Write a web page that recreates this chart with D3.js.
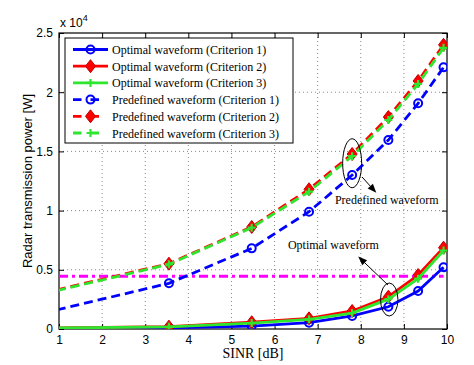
<!DOCTYPE html>
<html>
<head>
<meta charset="utf-8">
<script src="https://cdn.jsdelivr.net/npm/d3@7"></script>
<style>
  body { margin: 0; background: #fff; }
  .tick text { font-family: "Liberation Sans", Arial, sans-serif; font-size: 12px; }
</style>
</head>
<body>
<script>
// SINR sample points [dB] (first one lies left of the axis and gets clipped)
const sinrDb = [0, 3.55, 5.47, 6.8, 7.8, 8.64, 9.33, 9.92];

// transmission power, units of 1e4 W
const optCrit1 = [0.002, 0.010, 0.025, 0.053, 0.110, 0.188, 0.321, 0.521];
const optCrit2 = [0.005, 0.020, 0.057, 0.090, 0.152, 0.273, 0.456, 0.687];
const optCrit3 = [0.005, 0.018, 0.050, 0.082, 0.135, 0.252, 0.425, 0.663];
const preCrit1 = [0.079, 0.386, 0.681, 0.991, 1.300, 1.596, 1.906, 2.210];
const preCrit2 = [0.250, 0.552, 0.862, 1.180, 1.478, 1.790, 2.095, 2.400];
const preCrit3 = [0.243, 0.546, 0.856, 1.160, 1.460, 1.765, 2.070, 2.375];

// power limit (dash-dot)
const limitX = [1, 9.92];
const limitVal = 0.445;

const xTicks = [1, 2, 3, 4, 5, 6, 7, 8, 9, 10];
const yTicks = [0, 0.5, 1, 1.5, 2, 2.5];

const seriesNames = [
  "Optimal waveform (Criterion 1)",
  "Optimal waveform (Criterion 2)",
  "Optimal waveform (Criterion 3)",
  "Predefined waveform (Criterion 1)",
  "Predefined waveform (Criterion 2)",
  "Predefined waveform (Criterion 3)"
];

const blue = "#0000ff", red = "#ff0000", green = "#2ee62e", magenta = "#ff00ff";

const series = [
  { name: seriesNames[0], vals: optCrit1, color: blue,  marker: "o", dash: null },
  { name: seriesNames[1], vals: optCrit2, color: red,   marker: "d", dash: null },
  { name: seriesNames[2], vals: optCrit3, color: green, marker: "+", dash: null },
  { name: seriesNames[3], vals: preCrit1, color: blue,  marker: "o", dash: "9,5" },
  { name: seriesNames[4], vals: preCrit2, color: red,   marker: "d", dash: "9,5" },
  { name: seriesNames[5], vals: preCrit3, color: green, marker: "+", dash: "9,5" }
];

const W = 474, H = 365;
const margin = { left: 59, right: 27, top: 33, bottom: 36 };
const pw = W - margin.left - margin.right;
const ph = H - margin.top - margin.bottom;

const svg = d3.select("body").append("svg")
  .attr("width", W).attr("height", H);

const x = d3.scaleLinear().domain([1, 10]).range([0, pw]);
const y = d3.scaleLinear().domain([0, 2.5]).range([ph, 0]);

const g = svg.append("g").attr("transform", `translate(${margin.left},${margin.top})`);

svg.append("defs").append("clipPath").attr("id", "clip")
  .append("rect").attr("width", pw).attr("height", ph);

// grid
g.append("g").selectAll("line").data(xTicks.slice(1, -1)).join("line")
  .attr("x1", d => x(d)).attr("x2", d => x(d)).attr("y1", 0).attr("y2", ph)
  .attr("stroke", "#888").attr("stroke-dasharray", "1,3");
g.append("g").selectAll("line").data(yTicks.slice(1, -1)).join("line")
  .attr("y1", d => y(d)).attr("y2", d => y(d)).attr("x1", 0).attr("x2", pw)
  .attr("stroke", "#888").attr("stroke-dasharray", "1,3");

// axes, ticks inside on all four sides
const tk = 5;
const ax = d3.axisBottom(x).tickValues(xTicks).tickSize(-tk).tickPadding(6).tickSizeOuter(0);
const ay = d3.axisLeft(y).tickValues(yTicks).tickSize(-tk).tickPadding(6).tickSizeOuter(0)
  .tickFormat(d => d);
g.append("g").attr("transform", `translate(0,${ph})`).call(ax);
g.append("g").call(ay);
g.append("g").call(d3.axisTop(x).tickValues(xTicks).tickSize(-tk).tickFormat("").tickSizeOuter(0));
g.append("g").attr("transform", `translate(${pw},0)`)
  .call(d3.axisRight(y).tickValues(yTicks).tickSize(-tk).tickFormat("").tickSizeOuter(0));
g.selectAll(".domain").remove();
g.selectAll(".tick line").attr("stroke", "#000");
g.selectAll(".tick text").attr("fill", "#000");

g.append("rect").attr("width", pw).attr("height", ph)
  .attr("fill", "none").attr("stroke", "#000").attr("stroke-width", 1.2);

// markers
function drawMarker(sel, type, color) {
  if (type === "o") {
    sel.append("circle").attr("r", 4).attr("fill", "none")
      .attr("stroke", color).attr("stroke-width", 2);
  } else if (type === "d") {
    sel.append("path").attr("d", "M0,-6.5L5,0L0,6.5L-5,0Z")
      .attr("fill", color).attr("stroke", "#c00000").attr("stroke-width", 1);
  } else {
    sel.append("path").attr("d", "M-4,0H4M0,-4V4")
      .attr("stroke", color).attr("stroke-width", 2.2);
  }
}

const plot = g.append("g").attr("clip-path", "url(#clip)");
const line = d3.line().x((d, i) => x(sinrDb[i])).y(d => y(d));

// threshold line
plot.append("path")
  .attr("d", d3.line().x(d => x(d)).y(() => y(limitVal))(limitX))
  .attr("fill", "none").attr("stroke", magenta).attr("stroke-width", 3)
  .attr("stroke-dasharray", "9,4,3,4");

series.forEach(s => {
  plot.append("path").attr("d", line(s.vals))
    .attr("fill", "none").attr("stroke", s.color).attr("stroke-width", 2.8)
    .attr("stroke-dasharray", s.dash);
  plot.selectAll(null).data(s.vals).join("g")
    .attr("transform", (d, i) => `translate(${x(sinrDb[i])},${y(d)})`)
    .each(function () { drawMarker(d3.select(this), s.marker, s.color); });
});

// annotations (data coordinates)
const serif = "'Liberation Serif', 'Times New Roman', serif";
const ann = g.append("g");
function arrow(x1, y1, x2, y2) {
  const p1 = [x(x1), y(y1)], p2 = [x(x2), y(y2)];
  const a = Math.atan2(p2[1] - p1[1], p2[0] - p1[0]);
  const L = 9, wdt = 3.5;
  const bx = p2[0] - L * Math.cos(a), by = p2[1] - L * Math.sin(a);
  ann.append("line").attr("x1", p1[0]).attr("y1", p1[1]).attr("x2", bx).attr("y2", by)
    .attr("stroke", "#000").attr("stroke-width", 1);
  ann.append("path")
    .attr("d", `M${p2[0]},${p2[1]}L${bx - wdt * Math.sin(a)},${by + wdt * Math.cos(a)}` +
      `L${bx + wdt * Math.sin(a)},${by - wdt * Math.cos(a)}Z`)
    .attr("fill", "#000");
}
ann.append("ellipse").attr("cx", x(7.8)).attr("cy", y(1.40)).attr("rx", 9.5).attr("ry", 24.5)
  .attr("fill", "none").attr("stroke", "#000").attr("stroke-width", 1);
arrow(8.03, 1.284, 8.36, 1.15);
ann.append("text").attr("x", x(7.40)).attr("y", y(1.056))
  .attr("font-family", serif).attr("font-size", 12).text("Predefined waveform");

ann.append("ellipse").attr("cx", x(8.66)).attr("cy", y(0.249)).attr("rx", 8.7).attr("ry", 16.5)
  .attr("fill", "none").attr("stroke", "#000").attr("stroke-width", 1);
arrow(8.63, 0.372, 7.94, 0.612);
ann.append("text").attr("x", x(6.31)).attr("y", y(0.676))
  .attr("font-family", serif).attr("font-size", 12).text("Optimal waveform");

// legend
const leg = g.append("g").attr("transform", "translate(6,5)");
leg.append("rect").attr("width", 228).attr("height", 105)
  .attr("fill", "#fff").attr("stroke", "#000").attr("stroke-width", 1);
series.forEach((s, i) => {
  const row = leg.append("g").attr("transform", `translate(0,${11.5 + i * 16.7})`);
  row.append("line").attr("x1", 8).attr("x2", 43).attr("stroke", s.color)
    .attr("stroke-width", 2.8).attr("stroke-dasharray", s.dash ? "8.5,9" : null);
  drawMarker(row.append("g").attr("transform", "translate(25.5,0)"), s.marker, s.color);
  row.append("text").attr("x", 47).attr("y", 4.5)
    .attr("font-family", serif).attr("font-size", 12).text(s.name);
});

// labels
svg.append("text").attr("x", margin.left + pw / 2).attr("y", 358)
  .attr("text-anchor", "middle").attr("font-family", serif).attr("font-size", 14)
  .text("SINR [dB]");
svg.append("text")
  .attr("transform", `translate(32,${margin.top + ph / 2}) rotate(-90)`)
  .attr("text-anchor", "middle")
  .attr("font-family", "'Liberation Sans', Arial, sans-serif").attr("font-size", 13)
  .text("Radar transmission power [W]");
const ex = svg.append("text").attr("x", 60).attr("y", 27)
  .attr("font-family", "'Liberation Sans', Arial, sans-serif").attr("font-size", 12);
ex.append("tspan").text("x 10");
ex.append("tspan").attr("dy", -6).attr("font-size", 9).text("4");
</script>
</body>
</html>
